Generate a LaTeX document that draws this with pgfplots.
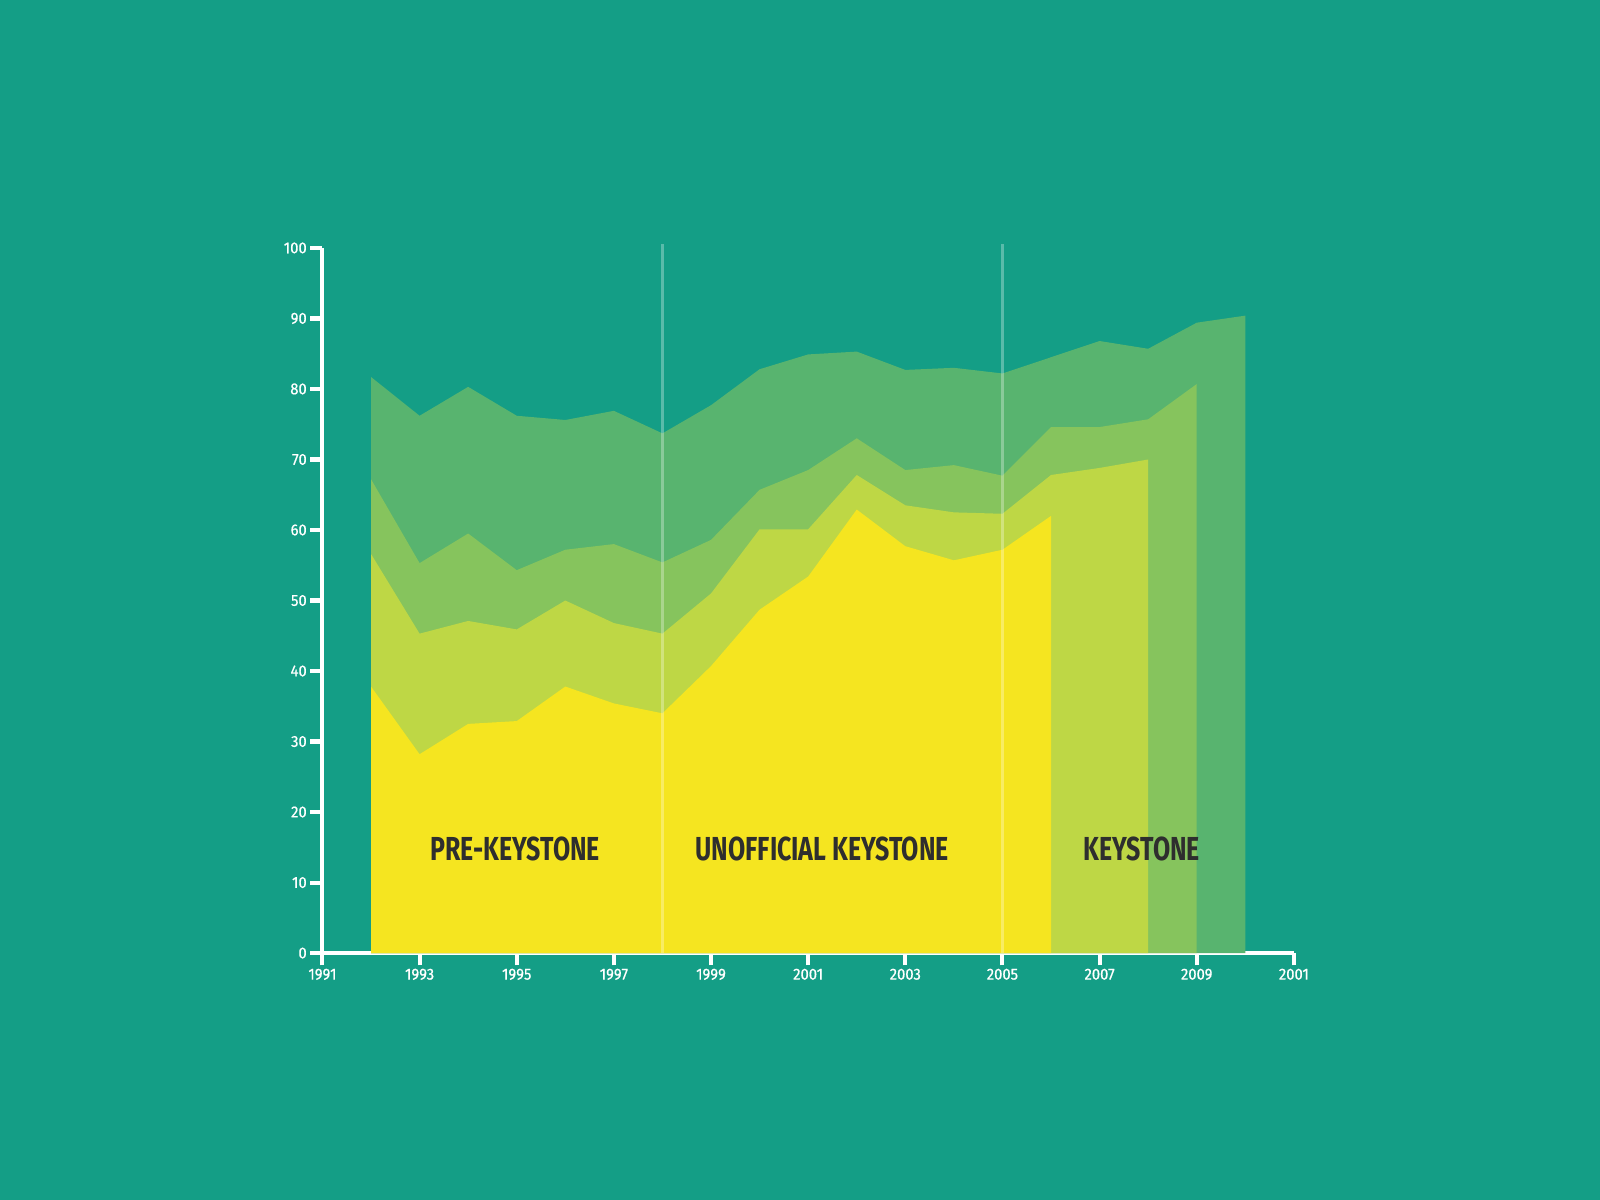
\documentclass[border=0pt]{standalone}
\usepackage{pgfplots}
\pgfplotsset{compat=1.18}
\usepackage{fontspec}
\setmainfont{Fira Sans}
\newfontfamily\tickfont[FakeStretch=0.93, FakeBold=0.6]{Fira Sans}
\newfontfamily\bandfont[FakeStretch=0.75]{Fira Sans}
\usetikzlibrary{backgrounds}

\definecolor{bg}{HTML}{149E86}
\definecolor{greenA}{HTML}{58B46F}
\definecolor{greenB}{HTML}{86C45D}
\definecolor{greenC}{HTML}{BED745}
\definecolor{yellowD}{HTML}{F5E520}
\definecolor{labeltext}{HTML}{2E2E2E}

\begin{document}
\begin{tikzpicture}
\begin{axis}[name=ax,
    scale only axis,
    width=476pt, height=345.5pt,
    xmin=1991, xmax=2011, ymin=0, ymax=100,
    axis lines=left,
    axis line style={-, white, line width=2pt},
    xtick={1991,1993,1995,1997,1999,2001,2003,2005,2007,2009,2011},
    xticklabels={1991,1993,1995,1997,1999,2001,2003,2005,2007,2009,2001},
    ytick={0,10,...,100},
    tick align=outside,
    major tick length=6pt,
    tick style={white, line width=2pt},
    ticklabel style={font=\tickfont\fontsize{7.8}{8}\selectfont, text=white, inner sep=1.5pt},
    /pgf/number format/assume math mode=true,
    clip=false,
    ]
% top band
\addplot[fill=greenA, draw=none] coordinates {
  (1992,81.7) (1993,76.2) (1994,80.3) (1995,76.2) (1996,75.6) (1997,76.9)
  (1998,73.7) (1999,77.7) (2000,82.8) (2001,84.9) (2002,85.3) (2003,82.7)
  (2004,83.0) (2005,82.2) (2006,84.5) (2007,86.8) (2008,85.7) (2009,89.4)
  (2010,90.4)} \closedcycle;
\addplot[fill=greenB, draw=none] coordinates {
  (1992,67.2) (1993,55.3) (1994,59.5) (1995,54.3) (1996,57.2) (1997,58.0)
  (1998,55.4) (1999,58.6) (2000,65.7) (2001,68.5) (2002,73.0) (2003,68.5)
  (2004,69.2) (2005,67.7) (2006,74.6) (2007,74.6) (2008,75.7) (2009,80.7)} \closedcycle;
\addplot[fill=greenC, draw=none] coordinates {
  (1992,56.6) (1993,45.3) (1994,47.1) (1995,45.9) (1996,50.0) (1997,46.8)
  (1998,45.3) (1999,51.0) (2000,60.1) (2001,60.1) (2002,67.8) (2003,63.5)
  (2004,62.5) (2005,62.3) (2006,67.8) (2007,68.8) (2008,70.0)} \closedcycle;
\addplot[fill=yellowD, draw=none] coordinates {
  (1992,37.8) (1993,28.2) (1994,32.5) (1995,32.9) (1996,37.8) (1997,35.4)
  (1998,34.0) (1999,40.7) (2000,48.7) (2001,53.4) (2002,62.9) (2003,57.7)
  (2004,55.7) (2005,57.2) (2006,62.0)} \closedcycle;
% era dividers
\addplot[white, opacity=0.3, line width=1.5pt] coordinates {(1998,0) (1998,100.5)};
\addplot[white, opacity=0.3, line width=1.5pt] coordinates {(2005,0) (2005,100.5)};

\node[text=labeltext, font=\bandfont\bfseries\fontsize{16.3}{18}\selectfont]
  at (axis cs:1994.97,14.76) {PRE-KEYSTONE};
\node[text=labeltext, font=\bandfont\bfseries\fontsize{16.3}{18}\selectfont]
  at (axis cs:2001.29,14.76) {UNOFFICIAL KEYSTONE};
\node[text=labeltext, font=\bandfont\bfseries\fontsize{16.3}{18}\selectfont]
  at (axis cs:2007.87,14.76) {KEYSTONE};
\end{axis}
\begin{scope}[on background layer]
\fill[bg] ([shift={(-158pt,-121pt)}]ax.south west) rectangle ([shift={(150pt,121.5pt)}]ax.north east);
\end{scope}
\end{tikzpicture}
\end{document}
